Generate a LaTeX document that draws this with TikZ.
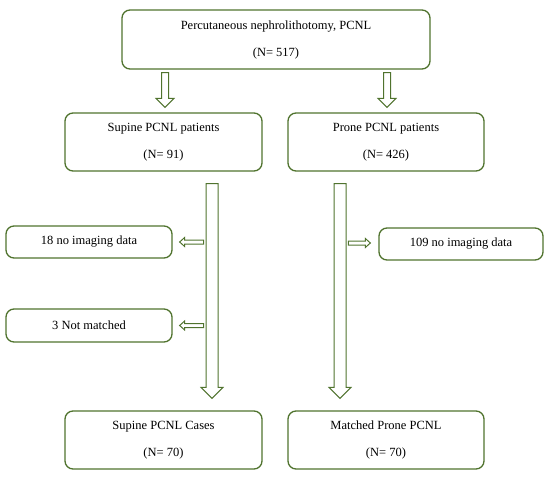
\documentclass[tikz,border=0pt]{standalone}
\usepackage{fontspec}
\setmainfont{Liberation Serif}
\usetikzlibrary{calc}
\definecolor{boxgreen}{RGB}{80,115,46}
\newcommand{\vblock}[5]{\draw[blk] let \p1=(#1), \p2=(#2) in
  (\x1-#3,\y1) -- (\x1+#3,\y1) -- (\x1+#3,\y2+#5) -- (\x1+#4,\y2+#5) -- (\x1,\y2)
  -- (\x1-#4,\y2+#5) -- (\x1-#3,\y2+#5) -- cycle;}
\newcommand{\lblock}[5]{\draw[blk] let \p1=(#1), \p2=(#2) in
  (\x1,\y1-#3) -- (\x1,\y1+#3) -- (\x2+#5,\y1+#3) -- (\x2+#5,\y1+#4) -- (\x2,\y1)
  -- (\x2+#5,\y1-#4) -- (\x2+#5,\y1-#3) -- cycle;}
\newcommand{\rblock}[5]{\draw[blk] let \p1=(#1), \p2=(#2) in
  (\x1,\y1-#3) -- (\x1,\y1+#3) -- (\x2-#5,\y1+#3) -- (\x2-#5,\y1+#4) -- (\x2,\y1)
  -- (\x2-#5,\y1-#4) -- (\x2-#5,\y1-#3) -- cycle;}
\begin{document}
\begin{tikzpicture}[x=1pt,y=-1pt,
  box/.style={draw=boxgreen, line width=1.3pt, rounded corners=8pt, inner sep=0pt,
    align=center, font=\fontsize{12.5}{15}\selectfont},
  blk/.style={draw=boxgreen, line width=1pt, line join=miter}]
\useasboundingbox (0,0) rectangle (550,479);
\node[box, minimum width=308pt, minimum height=59pt] (top) at (276,39.5)
  {Percutaneous nephrolithotomy, PCNL\\[12pt](N= 517)};
\node[box, minimum width=197pt, minimum height=58pt] (sup) at (163.5,142)
  {Supine PCNL patients\\[12pt](N= 91)};
\node[box, minimum width=196pt, minimum height=58pt] (pro) at (386,142)
  {Prone PCNL patients\\[12pt](N= 426)};
\node[box, minimum width=166pt, minimum height=32pt] (d18) at (89,242)
  {18 no imaging data};
\node[box, minimum width=164pt, minimum height=32pt] (d109) at (461,244)
  {109 no imaging data};
\node[box, minimum width=166pt, minimum height=33pt] (d3) at (89,325.5)
  {3 Not matched};
\node[box, minimum width=197pt, minimum height=58pt] (sc) at (163.5,440)
  {Supine PCNL Cases\\[12pt](N= 70)};
\node[box, minimum width=196pt, minimum height=58pt] (mp) at (386,440)
  {Matched Prone PCNL\\[12pt](N= 70)};
% top split arrows
\vblock{$(top.south -| sup.north)+(1.5,3)$}{$(sup.north)+(1.5,-5)$}{3.5pt}{9pt}{9pt}
\vblock{$(top.south -| pro.north)+(1,3)$}{$(pro.north)+(1,-5)$}{3.5pt}{9pt}{9pt}
% long arrows
\vblock{$(sup.south)+(48.5,12)$}{$(sc.north)+(48.5,-12)$}{6pt}{11pt}{11pt}
\vblock{$(pro.south)+(-46,12)$}{$(mp.north)+(-46,-12)$}{6pt}{11pt}{11pt}
% exclusion arrows
\lblock{$(d18.east)+(31,0)$}{$(d18.east)+(7,0)$}{2pt}{4.5pt}{5pt}
\lblock{$(d3.east)+(31,0)$}{$(d3.east)+(7,0)$}{2pt}{4.5pt}{5pt}
\rblock{$(d109.west)+(-30,-1)$}{$(d109.west)+(-8,-1)$}{2pt}{4.5pt}{5pt}
\end{tikzpicture}
\end{document}
